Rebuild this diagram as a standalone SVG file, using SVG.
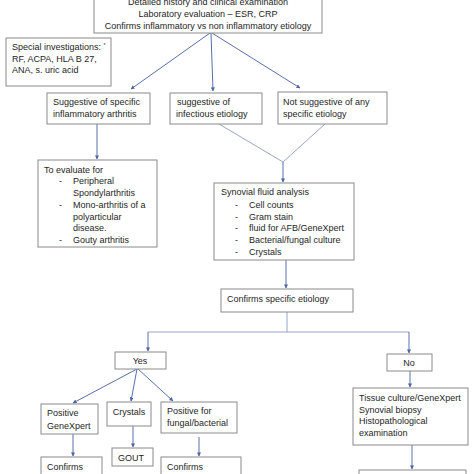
<svg xmlns="http://www.w3.org/2000/svg" width="474" height="474" viewBox="0 0 474 474">
<defs>
<marker id="ah" viewBox="0 0 10 10" refX="9" refY="5" markerWidth="4" markerHeight="4" orient="auto" markerUnits="userSpaceOnUse">
<path d="M0,0 L10,5 L0,10 z" fill="#4a63a6"/>
</marker>
<style>
rect{fill:#fff;stroke:#8a8a8a;stroke-width:1}
text{font-family:"Liberation Sans",Arial,sans-serif;font-size:9px;fill:#1e1e1e}
.c{text-anchor:middle}
.ln{stroke:#5a70ad;stroke-width:1;fill:none}
.lt{stroke:#9aa6cc;stroke-width:1;fill:none}
.ar{marker-end:url(#ah)}
</style>
</defs>
<rect x="0" y="0" width="474" height="474" style="fill:#fff;stroke:none"/>
<g id="connectors">
<line class="ln ar" x1="210" y1="33" x2="131" y2="89"/>
<line class="ln ar" x1="211" y1="33" x2="213" y2="91"/>
<line class="ln ar" x1="212" y1="33" x2="300" y2="88"/>
<line class="ln ar" x1="97" y1="124" x2="97" y2="159"/>
<polyline class="lt" points="219,124 283,162 325,124"/>
<line class="ln ar" x1="283" y1="162" x2="283" y2="182"/>
<line class="ln ar" x1="286" y1="260" x2="286" y2="288"/>
<polyline class="lt" points="287,312 287,332"/>
<line class="lt" x1="148" y1="332" x2="409" y2="332"/>
<line class="ln ar" x1="148" y1="332" x2="148" y2="351"/>
<line class="ln ar" x1="409" y1="332" x2="409" y2="353"/>
<line class="ln ar" x1="137" y1="369" x2="73" y2="403"/>
<line class="ln ar" x1="137" y1="369" x2="131" y2="401"/>
<line class="ln ar" x1="138" y1="369" x2="173" y2="401"/>
<line class="ln ar" x1="73" y1="434" x2="73" y2="456"/>
<line class="ln ar" x1="133" y1="426" x2="133" y2="447"/>
<line class="ln ar" x1="199" y1="437" x2="199" y2="456"/>
<line class="ln ar" x1="410" y1="371" x2="410" y2="387"/>
<line class="ln ar" x1="412" y1="445" x2="412" y2="469"/>
</g>
<g id="n-top">
<rect x="94" y="-10" width="228" height="43"/>
<text class="c" x="208" y="5">Detailed history and clinical examination</text>
<text class="c" x="208" y="17">Laboratory evaluation – ESR, CRP</text>
<text class="c" x="208" y="28.5">Confirms inflammatory vs non inflammatory etiology</text>
</g>
<g id="n-special">
<rect x="6" y="38" width="105" height="48"/>
<text x="12" y="50">Special investigations: <tspan font-size="5" dy="-3">*</tspan></text>
<text x="12" y="62">RF, ACPA, HLA B 27,</text>
<text x="12" y="73">ANA, s. uric acid</text>
</g>
<g id="n-inflam">
<rect x="47" y="93" width="103" height="31"/>
<text x="53" y="105">Suggestive of specific</text>
<text x="53" y="117">inflammatory arthritis</text>
</g>
<g id="n-infect">
<rect x="170" y="93" width="92" height="31"/>
<text x="177" y="105">suggestive of</text>
<text x="176" y="117">infectious etiology</text>
</g>
<g id="n-notsugg">
<rect x="278" y="92" width="109" height="32"/>
<text x="283" y="105">Not suggestive of any</text>
<text x="283" y="117">specific etiology</text>
</g>
<g id="n-evaluate">
<rect x="38" y="160" width="119" height="87"/>
<text x="44" y="173">To evaluate for</text>
<text x="59" y="184">-</text><text x="73" y="184">Peripheral</text>
<text x="73" y="195.5">Spondylarthritis</text>
<text x="59" y="208">-</text><text x="73" y="208">Mono-arthritis of a</text>
<text x="73" y="220">polyarticular</text>
<text x="73" y="231">disease.</text>
<text x="59" y="243">-</text><text x="73" y="243">Gouty arthritis</text>
</g>
<g id="n-synovial">
<rect x="214" y="183" width="140" height="77"/>
<text x="221" y="195">Synovial fluid analysis</text>
<text x="235" y="208">-</text><text x="249" y="208">Cell counts</text>
<text x="235" y="220">-</text><text x="249" y="220">Gram stain</text>
<text x="235" y="231">-</text><text x="249" y="231">fluid for AFB/GeneXpert</text>
<text x="235" y="243">-</text><text x="249" y="243">Bacterial/fungal culture</text>
<text x="235" y="255">-</text><text x="249" y="255">Crystals</text>
</g>
<g id="n-confirms">
<rect x="221" y="289" width="132" height="23"/>
<text x="227" y="302">Confirms specific etiology</text>
</g>
<g id="n-yes">
<rect x="115" y="352" width="51" height="17"/>
<text class="c" x="140" y="364">Yes</text>
</g>
<g id="n-no">
<rect x="387" y="354" width="45" height="17"/>
<text class="c" x="409" y="366">No</text>
</g>
<g id="n-genexpert">
<rect x="41" y="404" width="57" height="30"/>
<text x="47" y="416">Positive</text>
<text x="47" y="429">GeneXpert</text>
</g>
<g id="n-crystals">
<rect x="107" y="402" width="44" height="24"/>
<text class="c" x="129" y="415">Crystals</text>
</g>
<g id="n-fungal">
<rect x="161" y="402" width="76" height="31"/>
<text x="167" y="414">Positive for</text>
<text x="167" y="426">fungal/bacterial</text>
</g>
<g id="n-gout">
<rect x="112" y="448" width="41" height="18"/>
<text class="c" x="131" y="461">GOUT</text>
</g>
<g id="n-confirms1">
<rect x="41" y="457" width="61" height="30"/>
<text x="47" y="470">Confirms</text>
</g>
<g id="n-confirms2">
<rect x="161" y="457" width="80" height="30"/>
<text x="167" y="470">Confirms</text>
</g>
<g id="n-tissue">
<rect x="353" y="388" width="115" height="57"/>
<text x="359" y="401">Tissue culture/GeneXpert</text>
<text x="359" y="413">Synovial biopsy</text>
<text x="359" y="424">Histopathological</text>
<text x="359" y="436">examination</text>
</g>
<g id="n-bottom">
<rect x="359" y="470" width="107" height="20"/>
</g>
</svg>
